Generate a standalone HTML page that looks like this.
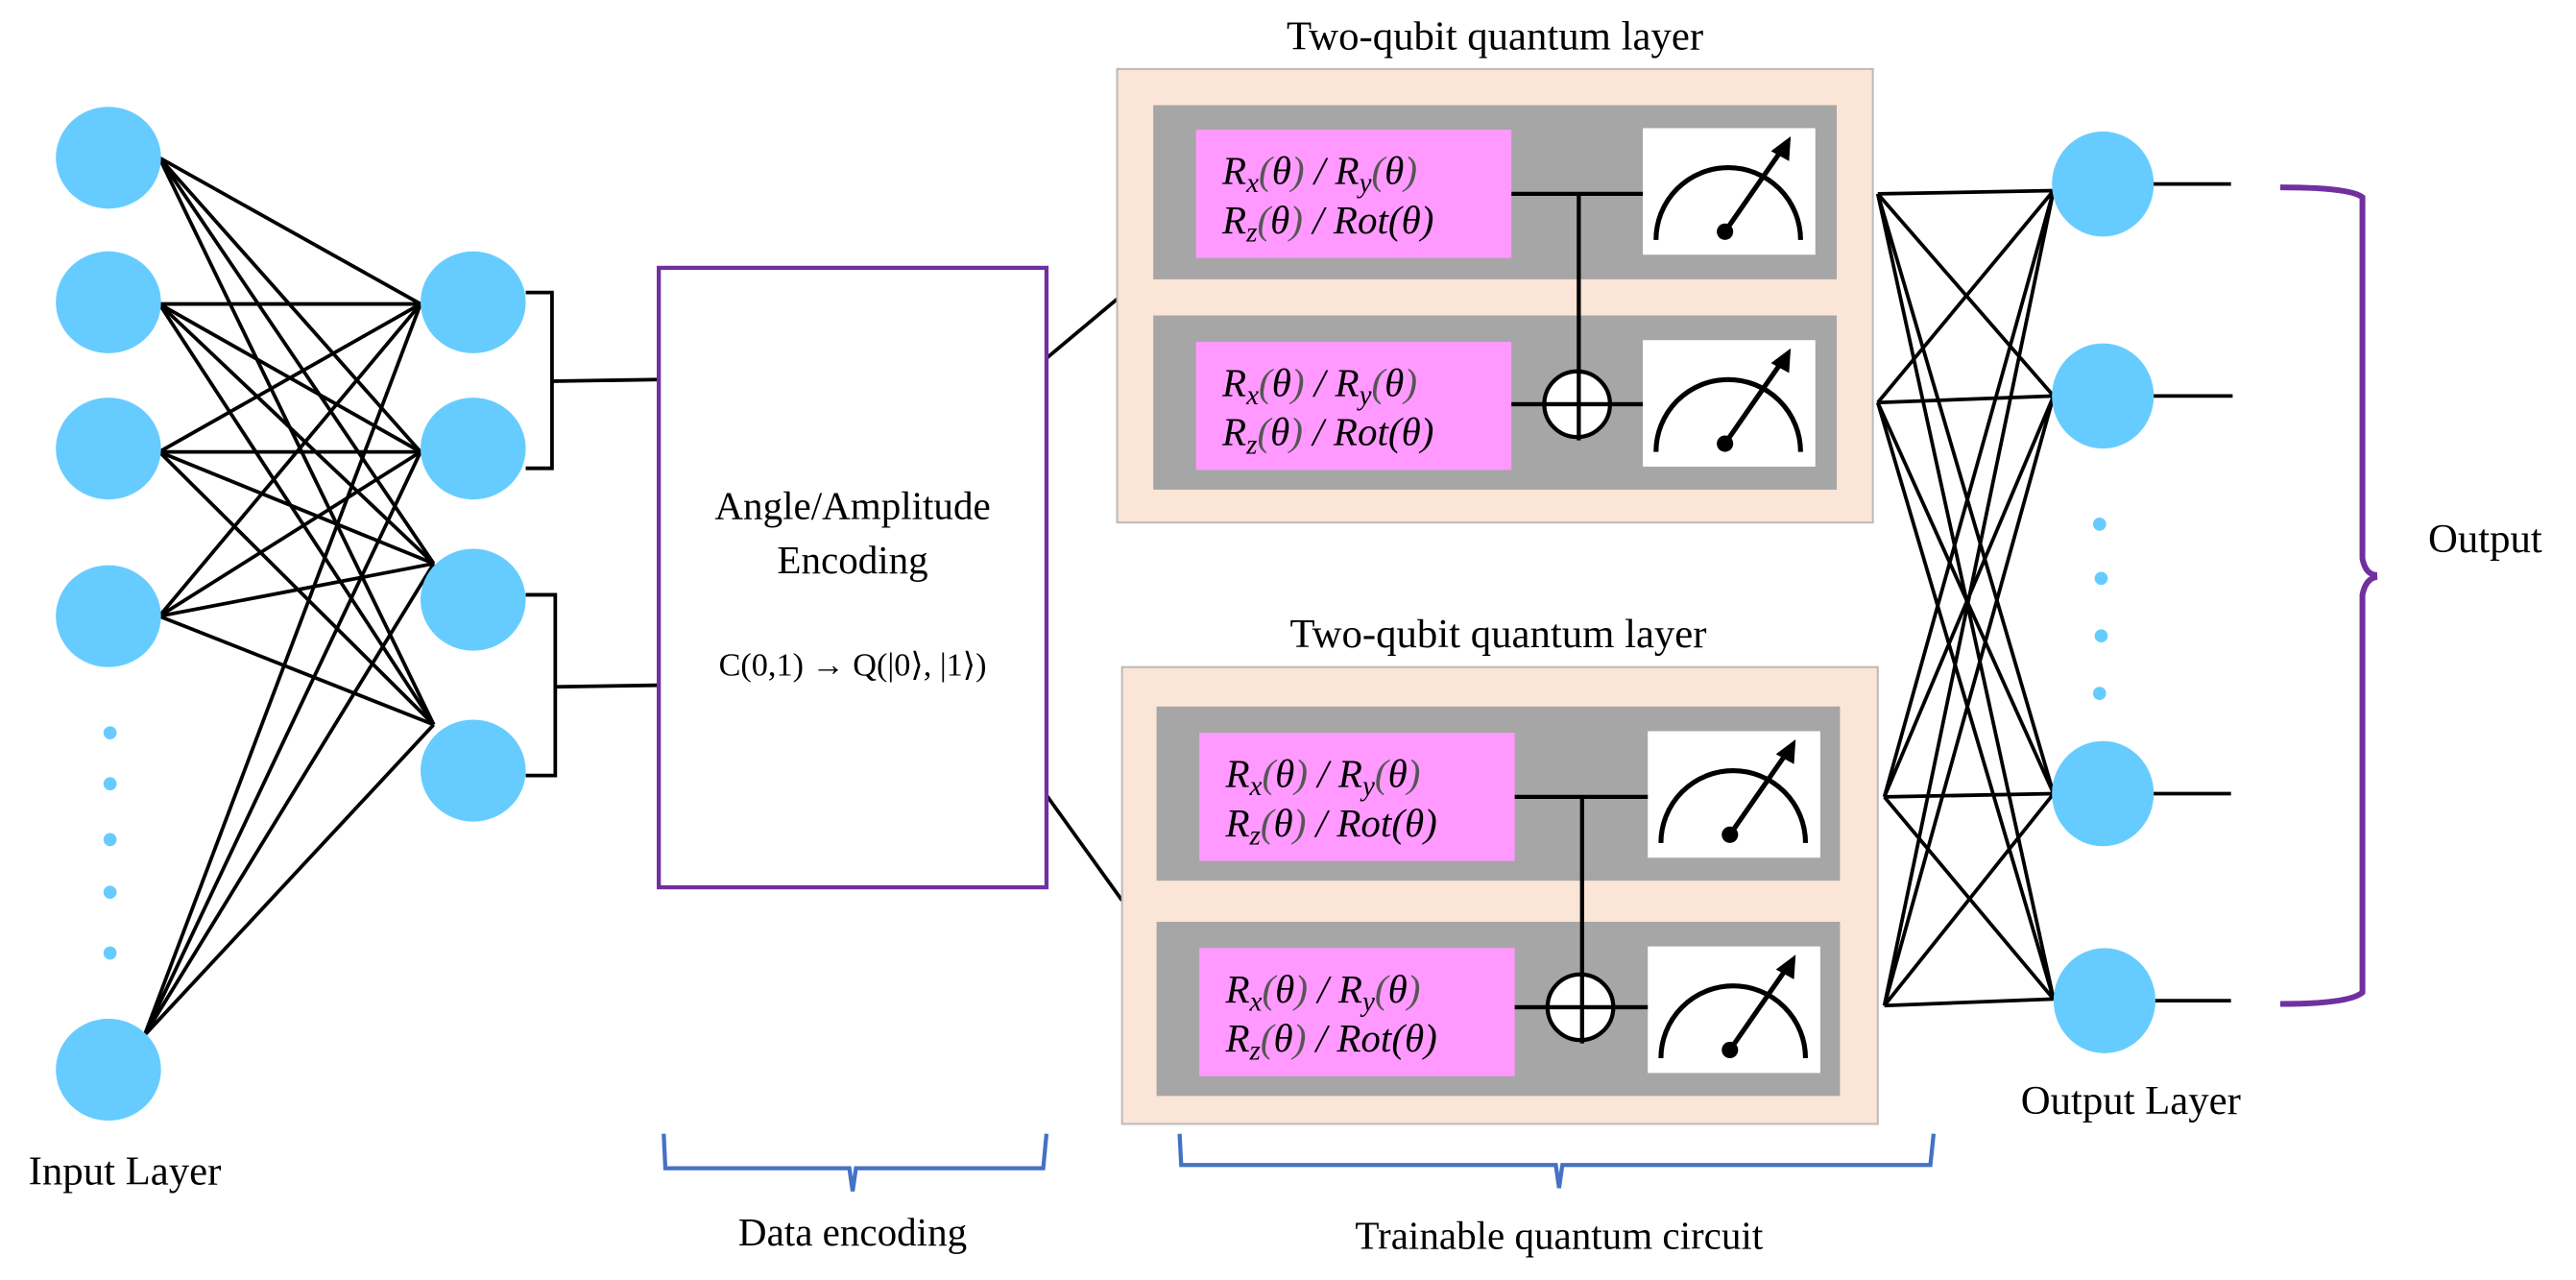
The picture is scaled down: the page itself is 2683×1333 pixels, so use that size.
<!DOCTYPE html>
<html><head><meta charset="utf-8"><style>
html,body{margin:0;padding:0;background:#fff;}
svg{display:block;}
text{font-family:"Liberation Serif",serif;fill:#000;}
.m{font-style:italic;font-size:24px;}
</style></head><body>
<svg width="2683" height="1333" viewBox="0 0 1568 779" preserveAspectRatio="none" xmlns="http://www.w3.org/2000/svg">
<defs>
<g id="meter">
<rect x="0" y="0" width="105" height="77" fill="#fff"/>
<path d="M8,68 A44,44 0 0 1 96,68" fill="none" stroke="#000" stroke-width="3"/>
<circle cx="50" cy="63" r="5" fill="#000"/>
<line x1="50" y1="63" x2="84" y2="14" stroke="#000" stroke-width="3"/>
<polygon points="90,5 78,14 89,20" fill="#000"/>
</g>
<g id="pink">
<rect x="0" y="0" width="192" height="78" fill="#ff99ff"/>
<text class="m" x="16" y="33">R<tspan font-size="17" dy="5">x</tspan><tspan dy="-5" fill="#555">(</tspan>θ<tspan fill="#555">)</tspan> / R<tspan font-size="17" dy="5">y</tspan><tspan dy="-5" fill="#555">(</tspan>θ<tspan fill="#555">)</tspan></text>
<text class="m" x="16" y="63">R<tspan font-size="17" dy="5">z</tspan><tspan dy="-5" fill="#555">(</tspan>θ<tspan fill="#555">)</tspan> / Rot(θ)</text>
</g>
</defs>

<g stroke="#000" stroke-width="2.2">
<line x1="97" y1="96" x2="256" y2="185"/><line x1="97" y1="96" x2="256" y2="275"/><line x1="97" y1="96" x2="264" y2="343"/><line x1="97" y1="96" x2="264" y2="441"/>
<line x1="97" y1="185" x2="256" y2="185"/><line x1="97" y1="185" x2="256" y2="275"/><line x1="97" y1="185" x2="264" y2="343"/><line x1="97" y1="185" x2="264" y2="441"/>
<line x1="97" y1="275" x2="256" y2="185"/><line x1="97" y1="275" x2="256" y2="275"/><line x1="97" y1="275" x2="264" y2="343"/><line x1="97" y1="275" x2="264" y2="441"/>
<line x1="97" y1="375" x2="256" y2="185"/><line x1="97" y1="375" x2="256" y2="275"/><line x1="97" y1="375" x2="264" y2="343"/><line x1="97" y1="375" x2="264" y2="441"/>
<line x1="88" y1="630" x2="256" y2="185"/><line x1="88" y1="630" x2="256" y2="275"/><line x1="88" y1="630" x2="264" y2="343"/><line x1="88" y1="630" x2="264" y2="441"/>
<polyline points="320,178 336,178 336,285 320,285" fill="none"/>
<line x1="336" y1="232" x2="401" y2="231"/>
<polyline points="320,362 338,362 338,472 320,472" fill="none"/>
<line x1="338" y1="418" x2="403" y2="417"/>
<line x1="637" y1="218" x2="680" y2="182"/>
<line x1="637" y1="484" x2="683" y2="548"/>
</g>

<g fill="#66ccff">
<ellipse cx="66" cy="96" rx="32" ry="31"/><ellipse cx="66" cy="184" rx="32" ry="31"/><ellipse cx="66" cy="273" rx="32" ry="31"/><ellipse cx="66" cy="375" rx="32" ry="31"/><ellipse cx="66" cy="651" rx="32" ry="31"/>
<circle cx="67" cy="446" r="4"/><circle cx="67" cy="477" r="4"/><circle cx="67" cy="511" r="4"/><circle cx="67" cy="543" r="4"/><circle cx="67" cy="580" r="4"/>
<ellipse cx="288" cy="184" rx="32" ry="31"/><ellipse cx="288" cy="273" rx="32" ry="31"/><ellipse cx="288" cy="365" rx="32" ry="31"/><ellipse cx="288" cy="469" rx="32" ry="31"/>
</g>

<rect x="401" y="163" width="236" height="377" fill="#fff" stroke="#7030a0" stroke-width="2.5"/>
<text x="519" y="316" font-size="24" text-anchor="middle">Angle/Amplitude</text>
<text x="519" y="349" font-size="24" text-anchor="middle">Encoding</text>
<text x="519" y="411" font-size="20" text-anchor="middle">C(0,1) → Q(|0⟩, |1⟩)</text>

<text x="910" y="30" font-size="25" text-anchor="middle">Two-qubit quantum layer</text>
<rect x="680" y="42" width="460" height="276" fill="#fbe5d6" stroke="#bbb" stroke-width="1.2"/>
<rect x="702" y="64" width="416" height="106" fill="#a6a6a6"/>
<rect x="702" y="192" width="416" height="106" fill="#a6a6a6"/>
<use href="#pink" x="728" y="79"/>
<use href="#pink" x="728" y="208"/>
<use href="#meter" x="1000" y="78"/>
<use href="#meter" x="1000" y="207"/>
<g stroke="#000" stroke-width="2.5" fill="none">
<line x1="920" y1="118" x2="1000" y2="118"/>
<line x1="920" y1="246" x2="1000" y2="246"/>
<circle cx="960" cy="246" r="20" fill="#fff"/>
<line x1="961" y1="118" x2="961" y2="268"/>
<line x1="940" y1="246" x2="980" y2="246"/>
</g>

<text x="912" y="394" font-size="25" text-anchor="middle">Two-qubit quantum layer</text>
<rect x="683" y="406" width="460" height="278" fill="#fbe5d6" stroke="#bbb" stroke-width="1.2"/>
<rect x="704" y="430" width="416" height="106" fill="#a6a6a6"/>
<rect x="704" y="561" width="416" height="106" fill="#a6a6a6"/>
<use href="#pink" x="730" y="446"/>
<use href="#pink" x="730" y="577"/>
<use href="#meter" x="1003" y="445"/>
<use href="#meter" x="1003" y="576"/>
<g stroke="#000" stroke-width="2.5" fill="none">
<line x1="922" y1="485" x2="1003" y2="485"/>
<line x1="922" y1="613" x2="1003" y2="613"/>
<circle cx="962" cy="613" r="20" fill="#fff"/>
<line x1="963" y1="485" x2="963" y2="635"/>
<line x1="942" y1="613" x2="982" y2="613"/>
</g>

<g stroke="#000" stroke-width="2.2">
<line x1="1143" y1="118" x2="1250" y2="116"/><line x1="1143" y1="118" x2="1250" y2="241"/><line x1="1143" y1="118" x2="1250" y2="483"/><line x1="1143" y1="118" x2="1250" y2="608"/>
<line x1="1143" y1="245" x2="1250" y2="116"/><line x1="1143" y1="245" x2="1250" y2="241"/><line x1="1143" y1="245" x2="1250" y2="483"/><line x1="1143" y1="245" x2="1250" y2="608"/>
<line x1="1147" y1="485" x2="1250" y2="116"/><line x1="1147" y1="485" x2="1250" y2="241"/><line x1="1147" y1="485" x2="1250" y2="483"/><line x1="1147" y1="485" x2="1250" y2="608"/>
<line x1="1147" y1="612" x2="1250" y2="116"/><line x1="1147" y1="612" x2="1250" y2="241"/><line x1="1147" y1="612" x2="1250" y2="483"/><line x1="1147" y1="612" x2="1250" y2="608"/>
<line x1="1306" y1="112" x2="1358" y2="112"/><line x1="1306" y1="241" x2="1359" y2="241"/><line x1="1306" y1="483" x2="1358" y2="483"/><line x1="1306" y1="609" x2="1358" y2="609"/>
</g>
<g fill="#66ccff">
<ellipse cx="1280" cy="112" rx="31" ry="32"/><ellipse cx="1280" cy="241" rx="31" ry="32"/><ellipse cx="1280" cy="483" rx="31" ry="32"/><ellipse cx="1281" cy="609" rx="31" ry="32"/>
<circle cx="1278" cy="319" r="4"/><circle cx="1279" cy="352" r="4"/><circle cx="1279" cy="387" r="4"/><circle cx="1278" cy="422" r="4"/>
</g>

<path d="M1388,114 Q1430,114 1438,120 L1438,340 Q1440,350 1447,350 M1447,351 Q1440,352 1438,362 L1438,604 Q1430,611 1388,611" fill="none" stroke="#7030a0" stroke-width="3.5"/>
<text x="1478" y="336" font-size="25">Output</text>
<text x="1297" y="678" font-size="25" text-anchor="middle">Output Layer</text>
<text x="76" y="721" font-size="25" text-anchor="middle">Input Layer</text>

<g fill="none" stroke="#4472c4" stroke-width="2.5">
<path d="M404,690 L405,711 L517,711 L519,725 L521,711 L635,711 L637,690"/>
<path d="M718,690 L719,709 L947,709 L949,723 L951,709 L1175,709 L1177,690"/>
</g>
<text x="519" y="758" font-size="24" text-anchor="middle">Data encoding</text>
<text x="949" y="760" font-size="24" text-anchor="middle">Trainable quantum circuit</text>
</svg>
</body></html>
